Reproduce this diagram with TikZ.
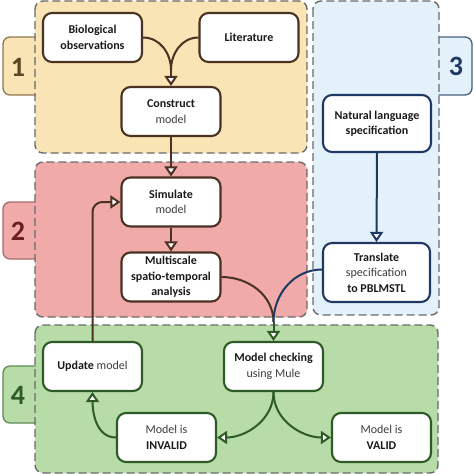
\documentclass[tikz,border=0pt]{standalone}
\usepackage{fontspec}
\setmainfont{Carlito}
\usetikzlibrary{arrows.meta}
\definecolor{brownln}{HTML}{4A3222}
\definecolor{navyln}{HTML}{1F3864}
\definecolor{greenln}{HTML}{2D5A27}
\definecolor{yfill}{HTML}{F8E4B4}
\definecolor{rfill}{HTML}{F0AAAA}
\definecolor{bfill}{HTML}{E3F1FB}
\definecolor{gfill}{HTML}{B8DCA7}
\definecolor{ytab}{HTML}{8F7A4E}
\definecolor{rtab}{HTML}{A86A6A}
\definecolor{btab}{HTML}{46607F}
\definecolor{gtab}{HTML}{5E8C54}
\definecolor{ylab}{HTML}{5B4523}
\definecolor{rlab}{HTML}{6A1E1E}
\definecolor{blab}{HTML}{1F3864}
\definecolor{glab}{HTML}{2E5B2A}
\definecolor{dashc}{HTML}{6A6A6A}
\definecolor{txt}{HTML}{3C3C3C}
\definecolor{btxt}{HTML}{1A1A1A}
\tikzset{
  panelborder/.style={draw=dashc, line width=1.4pt, dash pattern=on 8pt off 4pt, rounded corners=8pt},
  tabshape/.style={line width=1.3pt, rounded corners=7pt},
  tablabel/.style={font=\fontsize{28}{28}\selectfont\bfseries},
  box/.style={draw, fill=white, line width=2.1pt, rounded corners=9pt, minimum width=99pt, minimum height=49pt, align=center, inner sep=2pt, font=\fontsize{12}{15.5}\selectfont, text=txt},
  conn/.style={line width=2pt},
  arr/.style={line width=2pt, -{Triangle[open, fill=white, length=10pt, width=13pt]}},
}
\newcommand{\bt}[1]{\textcolor{btxt}{\textbf{#1}}}
\begin{document}
\begin{tikzpicture}[x=1pt,y=-1pt]
\useasboundingbox (0,0) rectangle (474,474);
% panel fills
\fill[yfill, rounded corners=8pt] (35,1) rectangle (307,153);
\fill[bfill, rounded corners=8pt] (313,1) rectangle (439,315);
\fill[rfill, rounded corners=8pt] (35,162) rectangle (307,317);
\fill[gfill, rounded corners=8pt] (35,325) rectangle (438,473);
% tabs
\filldraw[tabshape, fill=yfill, draw=ytab] (35.5,37) -- (3,37) -- (3,95) -- (35.5,95);
\filldraw[tabshape, fill=rfill, draw=rtab] (35.5,202) -- (3,202) -- (3,259) -- (35.5,259);
\filldraw[tabshape, fill=bfill, draw=btab] (438.5,37) -- (472,37) -- (472,95) -- (438.5,95);
\filldraw[tabshape, fill=gfill, draw=gtab] (35.5,366) -- (3,366) -- (3,423) -- (35.5,423);
% panel borders
\draw[panelborder] (35,1) rectangle (307,153);
\draw[panelborder] (313,1) rectangle (439,315);
\draw[panelborder] (35,162) rectangle (307,317);
\draw[panelborder] (35,325) rectangle (438,473);
% tab labels
\node[tablabel, text=ylab] (l1) at (18,67) {1};
\node[tablabel, text=rlab] (l2) at (18,231) {2};
\node[tablabel, text=blab] (l3) at (456,66) {3};
\node[tablabel, text=glab] (l4) at (18,395) {4};
% nodes
\node[box, draw=brownln] (bio) at (92.5,37.5) {\bt{Biological}\\\bt{observations}};
\node[box, draw=brownln] (lit) at (249,37.5) {\bt{Literature}};
\node[box, draw=brownln] (cons) at (171,111.5) {\bt{Construct}\\model};
\node[box, draw=brownln] (sim) at (171,202) {\bt{Simulate}\\model};
\node[box, draw=brownln] (multi) at (171,277) {\bt{Multiscale}\\\bt{spatio-temporal}\\\bt{analysis}};
\node[box, draw=navyln, minimum width=108pt, minimum height=57pt] (nat) at (377,123.5) {\bt{Natural language}\\\bt{specification}};
\node[box, draw=navyln, minimum width=107pt, minimum height=59pt] (trans) at (376.5,272.5) {\bt{Translate}\\specification\\\bt{to PBLMSTL}};
\node[box, draw=greenln] (upd) at (92.5,366.5) {\bt{Update} model};
\node[box, draw=greenln] (chk) at (273.5,366.5) {\bt{Model checking}\\using Mule};
\node[box, draw=greenln] (inv) at (166.5,437.5) {Model is\\\bt{INVALID}};
\node[box, draw=greenln] (val) at (381.5,437.5) {Model is\\\bt{VALID}};
% merge points
\coordinate (m1) at (171,70);
\coordinate (m2) at (273.5,322);
% connectors
\draw[conn, brownln] (bio.east) to[out=0, in=90] (m1);
\draw[conn, brownln] (lit.west) to[out=180, in=90] (m1);
\draw[arr, brownln] (m1) -- (cons.north);
\draw[arr, brownln] (cons.south) -- (sim.north);
\draw[arr, brownln] (sim.south) -- (multi.north);
\draw[arr, navyln] (nat.south) -- (trans.north);
\draw[conn, brownln] (multi.east) to[out=0, in=90] (m2);
\draw[conn, navyln] ([yshift=3pt]trans.west) to[out=180, in=90] (m2);
\draw[arr, greenln] (m2) -- (chk.north);
\draw[arr, brownln, rounded corners=10pt] (upd.north) |- (sim.west);
\draw[arr, greenln] (chk.south) to[out=-90, in=0] (inv.east);
\draw[arr, greenln] (chk.south) to[out=-90, in=180] (val.west);
\draw[arr, greenln] (inv.west) to[out=180, in=-90] (upd.south);
\end{tikzpicture}
\end{document}
